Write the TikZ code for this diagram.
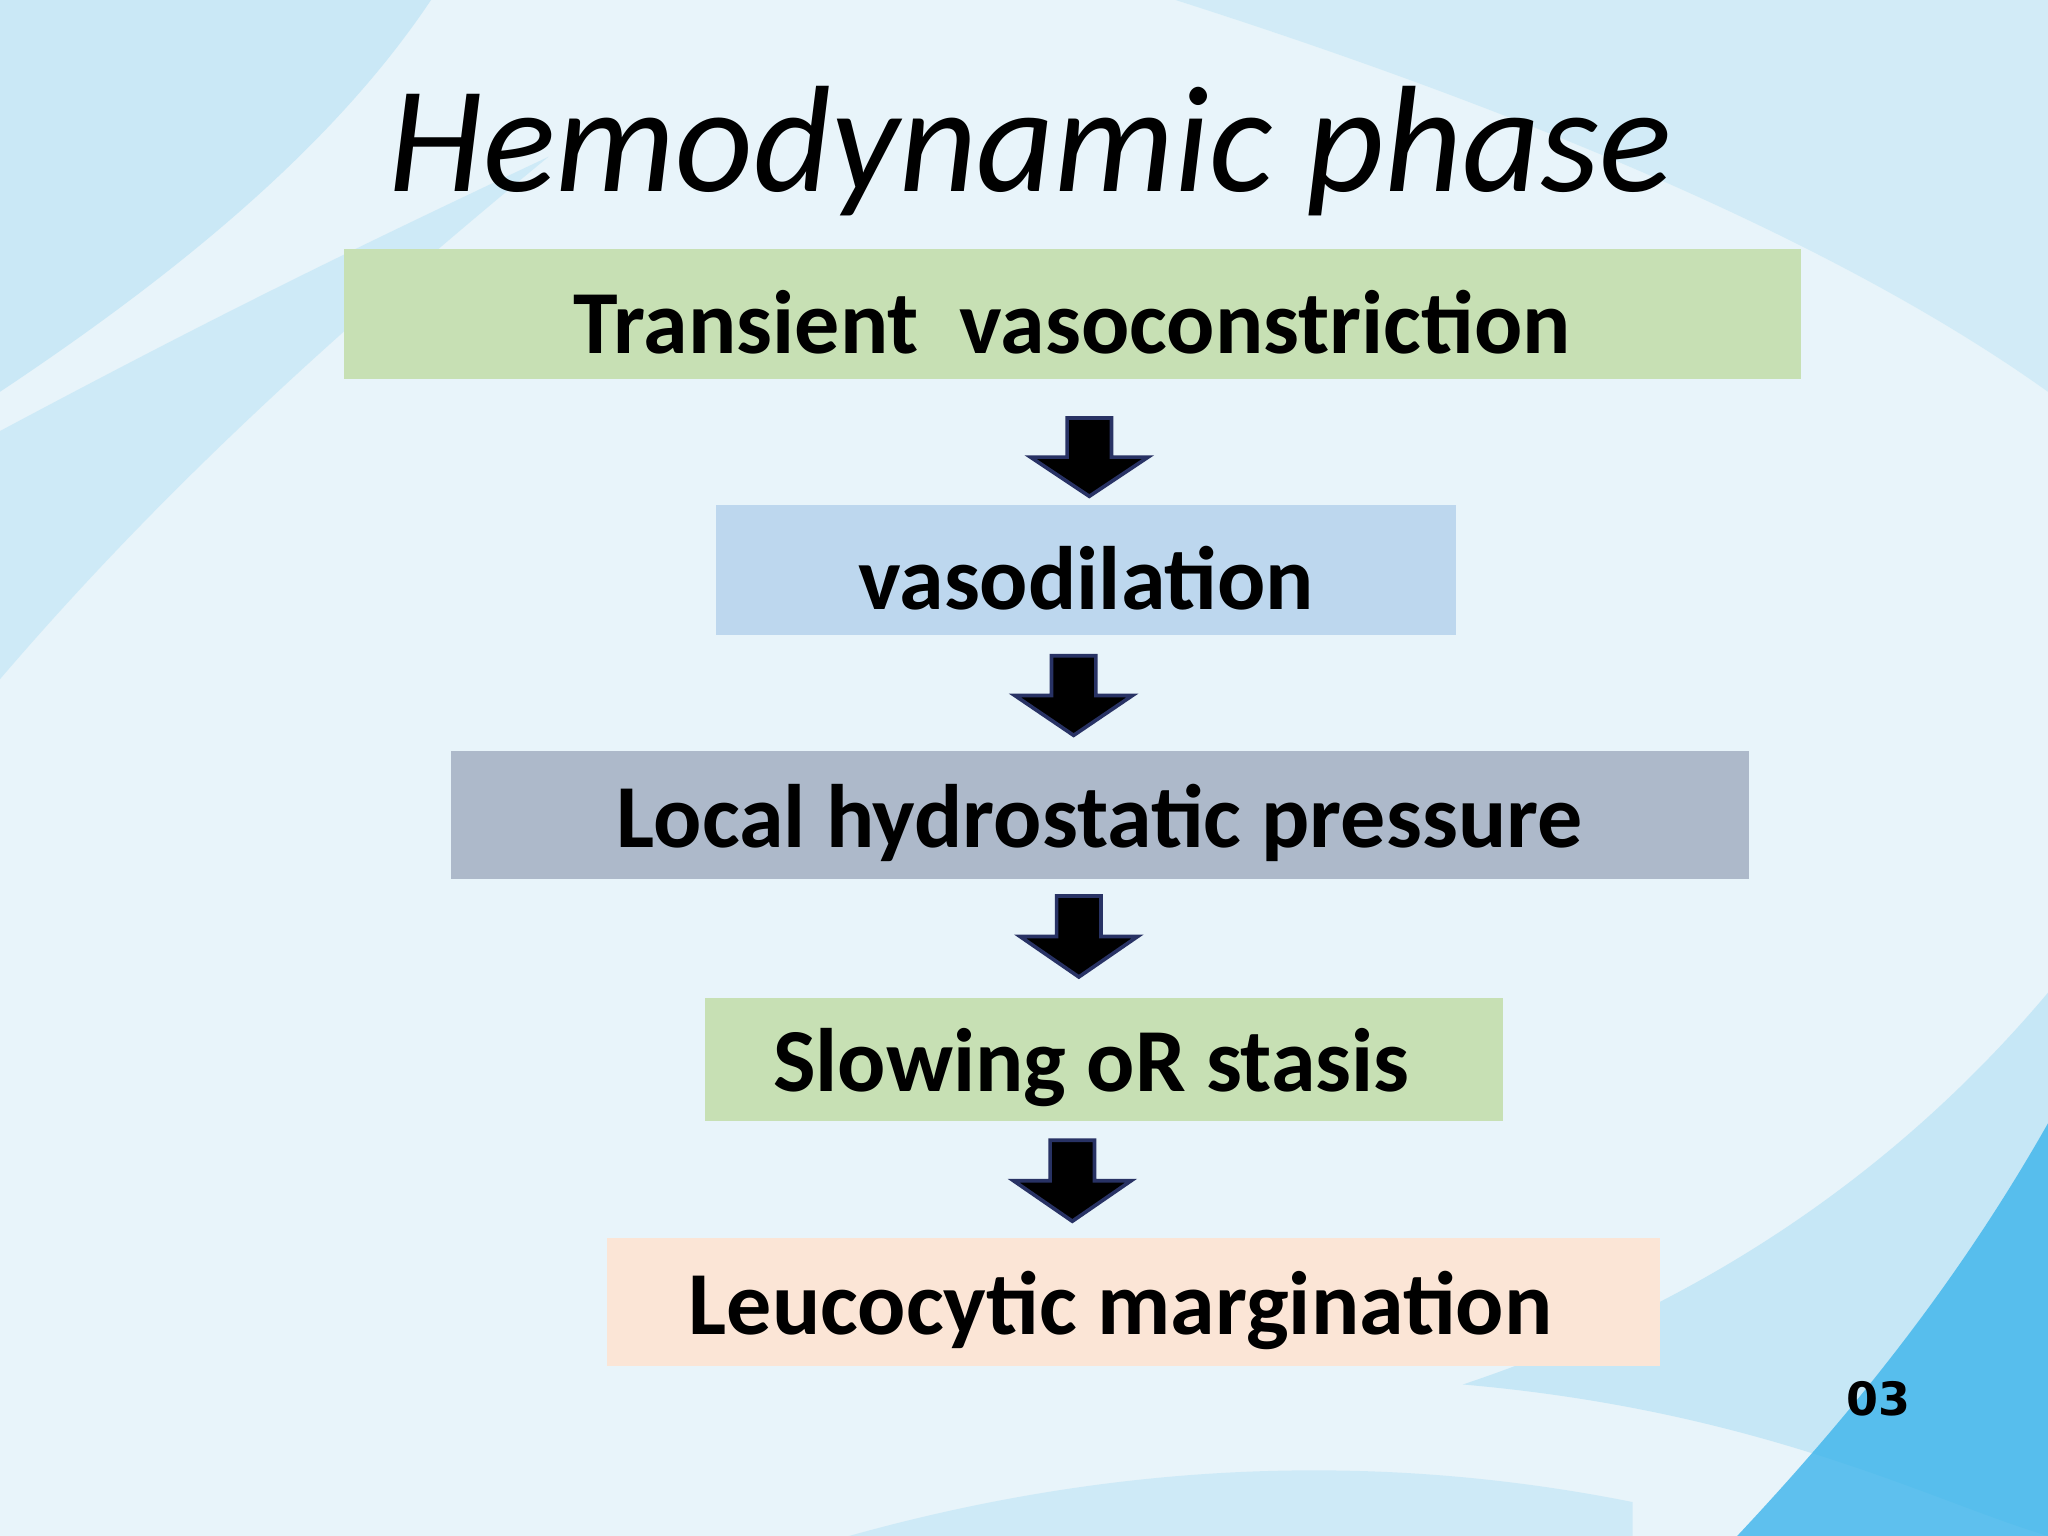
\documentclass[tikz,border=0pt]{standalone}
\usepackage{fontspec}
\setmainfont{Carlito}
\newfontfamily\numfont{DejaVu Sans}
\begin{document}
\begin{tikzpicture}[x=0.01cm,y=-0.01cm,
  lbl/.style={font=\fontsize{19.6}{24}\selectfont\bfseries,text=black,yshift=-0.06cm},
  darr/.style={fill=black,draw={rgb,255:red,40;green,50;blue,100},line width=0.8pt,line join=miter}]
\definecolor{gbox}{RGB}{199,224,180}
\definecolor{bbox}{RGB}{189,215,238}
\definecolor{sbox}{RGB}{173,185,202}
\definecolor{pbox}{RGB}{251,229,214}
\definecolor{bgA}{RGB}{232,244,250}
\definecolor{bgB}{RGB}{190,228,245}
\definecolor{bgC}{RGB}{60,180,235}
\useasboundingbox (0,0) rectangle (1568,1176);
% background
\fill[bgA] (0,0) rectangle (1568,1176);
\fill[bgB,opacity=0.7] (0,0) -- (330,0) .. controls (250,120) and (120,220) .. (0,300) -- cycle;
\fill[bgB,opacity=0.6] (0,330) .. controls (150,250) and (250,200) .. (420,120) .. controls (250,260) and (120,380) .. (0,520) -- cycle;
\fill[bgB,opacity=0.5] (900,0) -- (1568,0) -- (1568,300) .. controls (1400,180) and (1150,80) .. cycle;
\fill[bgB,opacity=0.8] (1568,760) .. controls (1450,900) and (1300,1000) .. (1120,1060) .. controls (1350,1080) and (1480,1150) .. (1568,1176) -- cycle;
\fill[bgC,opacity=0.8] (1568,860) .. controls (1500,980) and (1420,1080) .. (1330,1176) -- (1568,1176) -- cycle;
\fill[bgB,opacity=0.6] (650,1176) .. controls (850,1120) and (1050,1110) .. (1250,1150) -- (1250,1176) -- cycle;
% title
\node[font=\fontsize{33}{39}\selectfont\itshape] (title) at (789,116) {Hemodynamic phase};
% boxes
\fill[gbox] (263,191) rectangle (1379,290) node[midway,lbl] (b1) {Transient\ \ vasoconstriction};
\fill[bbox] (548,387) rectangle (1115,486) node[midway,lbl] (b2) {vasodilation};
\fill[sbox] (345,575) rectangle (1339,673) node[midway,lbl] (b3) {Local hydrostatic pressure};
\fill[gbox] (540,764) rectangle (1151,858) node[midway,lbl,xshift=-0.1cm] (b4) {Slowing oR stasis};
\fill[pbox] (465,948) rectangle (1271,1046) node[midway,lbl,xshift=-0.1cm] (b5) {Leucocytic margination};
% arrows
\foreach \cx/\ty/\by in {834/320/380, 822/502/563, 826/686/748, 821/873/935}{
  \pgfmathsetmacro{\hy}{\ty+0.5*(\by-\ty)}
  \draw[darr] (\cx-17,\ty) -- (\cx+17,\ty) -- (\cx+17,\hy) -- (\cx+45,\hy) -- (\cx,\by) -- (\cx-45,\hy) -- (\cx-17,\hy) -- cycle;
}
\node[font=\numfont\bfseries\fontsize{10}{12}\selectfont] (num) at (1438,1071) {03};
\end{tikzpicture}
\end{document}
